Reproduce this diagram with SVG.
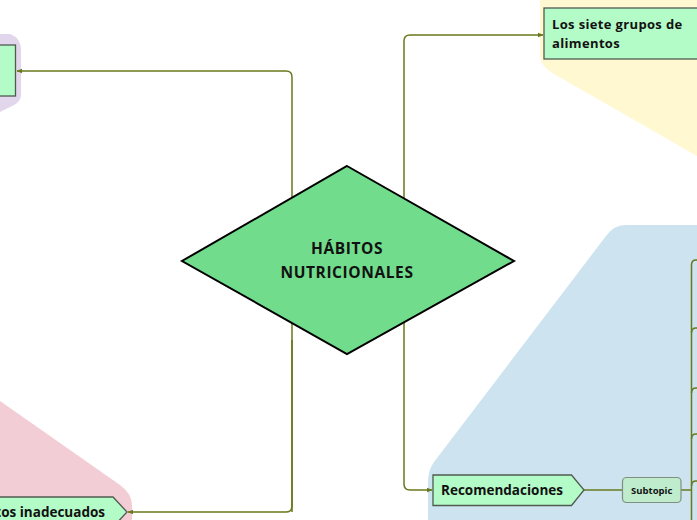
<svg xmlns="http://www.w3.org/2000/svg" width="697" height="520" viewBox="0 0 697 520">
<style>
.conn{fill:none;stroke:#687a1c;stroke-width:1.5}
.box{fill:#b4fcc7;stroke:#4f5a50;stroke-width:1.3}
.lbl{font-family:"Open Sans","Noto Sans","Liberation Sans",sans-serif;font-weight:bold;fill:#111}
.sub{fill:#bfeccd;stroke:#7f8f80;stroke-width:1.2}
</style>
<defs>
<marker id="ah" viewBox="0 0 10 10" refX="9" refY="5" markerWidth="6" markerHeight="6" orient="auto-start-reverse" markerUnits="userSpaceOnUse">
<path d="M0,1 L10,5 L0,9 Z" fill="#687a1c"/>
</marker>
</defs>
<rect width="697" height="520" fill="#fff"/>
<g id="backgrounds">
<path d="M0,34 L10,34 Q21,38 21,50 L21,95 Q21,102 12,106 L0,112 Z" fill="#e1d6eb"/>
<path d="M540,0 L697,0 L697,156 L554,74 Q540,66 540,55 Z" fill="#fff8d0"/>
<path d="M697,225 L625,225 Q614,225 606,236 L434,462 Q428,470 428,482 L428,520 L697,520 Z" fill="#cde3ef"/>
<path d="M0,401 L120,485 Q132,494 132,505 L132,520 L0,520 Z" fill="#f3cdd5"/>
</g>
<g id="connectors">
<path class="conn" d="M292,512 L292,77 Q292,71 286,71 L17,71" marker-end="url(#ah)"/>
<path class="conn" d="M292,340 L292,506 Q292,512 286,512 L128,512" marker-end="url(#ah)"/>
<path class="conn" d="M404,200 L404,41 Q404,35 410,35 L543,35" marker-end="url(#ah)"/>
<path class="conn" d="M404,200 L404,484 Q404,490 410,490 L432,490" marker-end="url(#ah)"/>
<path class="conn" d="M584,490 L622,490"/>
<path class="conn" d="M681,490 L691.5,490"/>
<path class="conn" d="M697,260 L696,260 Q691.5,260 691.5,265 L691.5,520"/>
<path class="conn" d="M691.5,333 Q691.5,328 696,328 L697,328"/>
<path class="conn" d="M691.5,393 Q691.5,388 696,388 L697,388"/>
<path class="conn" d="M691.5,439 Q691.5,434 696,434 L697,434"/>
<path class="conn" d="M691.5,486 Q691.5,481 696,481 L697,481"/>
</g>
<g id="node-center">
<polygon points="347,166 514,261 347,354 182,261" fill="#72dc8d" stroke="#000" stroke-width="2"/>
<text class="lbl" x="347" y="254" text-anchor="middle" font-size="15.5" font-weight="600" letter-spacing="0.6">HÁBITOS</text>
<text class="lbl" x="347" y="278" text-anchor="middle" font-size="15.5" font-weight="600" letter-spacing="0.6">NUTRICIONALES</text>
</g>
<g id="node-left-top">
<rect class="box" x="-5" y="45" width="20.5" height="51"/>
</g>
<g id="node-grupos">
<rect class="box" x="544" y="8" width="160" height="51"/>
<text class="lbl" x="552" y="29" font-size="13" letter-spacing="0.35">Los siete grupos de</text>
<text class="lbl" x="552" y="48" font-size="13" letter-spacing="0.35">alimentos</text>
</g>
<g id="node-recomendaciones">
<path class="box" d="M433,475 L571.5,475 L584,490 L571.5,505.5 L433,505.5 Z"/>
<text class="lbl" x="441" y="495" font-size="13.5">Recomendaciones</text>
</g>
<g id="node-subtopic">
<rect class="sub" x="622.5" y="477.5" width="58.5" height="25" rx="4"/>
<text class="lbl" x="651.7" y="494" text-anchor="middle" font-size="9.5">Subtopic</text>
</g>
<g id="node-inadecuados">
<path class="box" d="M-5,497 L113,497 L127,512 L113,527 L-5,527 Z"/>
<text class="lbl" x="105" y="517" text-anchor="end" font-size="13.5">tos inadecuados</text>
</g>
</svg>
